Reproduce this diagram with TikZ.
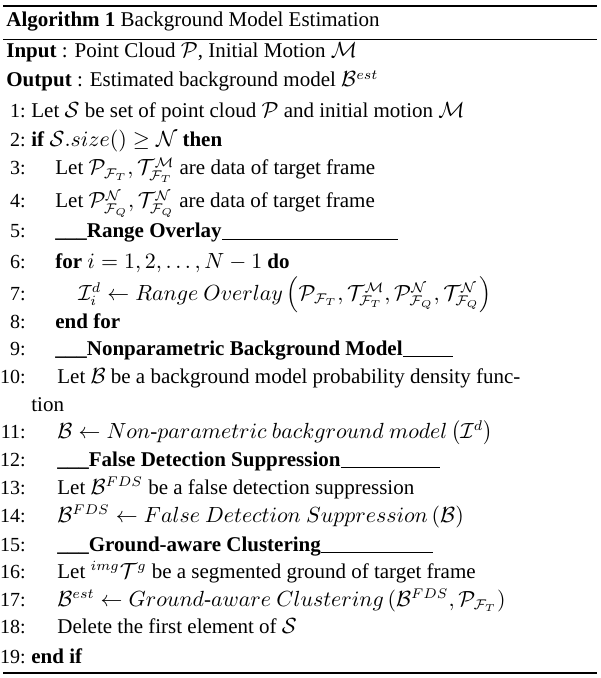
\documentclass[tikz,border=0pt]{standalone}
\usepackage{fontspec}
\setmainfont{Liberation Serif}
\begin{document}
\begin{tikzpicture}[x=0.5pt,y=-0.5pt,
  txt/.style={anchor=base west,inner sep=0pt,font=\fontsize{10.5}{13}\selectfont},
  num/.style={anchor=base east,inner sep=0pt,font=\fontsize{10}{13}\selectfont},
  heavy/.style={line width=1.1pt},
  light/.style={line width=0.45pt},
  uline/.style={line width=0.5pt}]
\useasboundingbox (0,0) rectangle (600,678);
\draw[heavy] (3,6) coordinate(tl) -- (597,6) coordinate(tr);
\node[txt] (cap) at (6,27) {\textbf{Algorithm 1} Background Model Estimation};
\draw[light] (3,39) -- (597,39);
\node[txt] (in) at (6,58) {\textbf{Input} : Point Cloud $\mathcal{P}$, Initial Motion $\mathcal{M}$};
\node[txt] (out) at (6,87) {\textbf{Output} : Estimated background model $\mathcal{B}^{est}$};
% numbers
\foreach \n/\y in {1/118,2/147,3/175,4/208,5/238,6/268,7/300,8/328,9/355,10/383,11/438,12/466,13/494,14/522,15/551,16/578,17/606,18/633,19/663}
  \node[num] (n\n) at (26,\y) {\n:};
\node[txt] (l1) at (31,118) {Let $\mathcal{S}$ be set of point cloud $\mathcal{P}$ and initial motion $\mathcal{M}$};
\node[txt] (l2) at (31,147) {\textbf{if} $\mathcal{S}.size() \geq \mathcal{N}$ \textbf{then}};
\node[txt] (l3) at (55,175) {Let $\mathcal{P}_{\mathcal{F}_T}, \mathcal{T}^{\mathcal{M}}_{\mathcal{F}_T}$ are data of target frame};
\node[txt] (l4) at (55,208) {Let $\mathcal{P}^{\mathcal{N}}_{\mathcal{F}_Q}, \mathcal{T}^{\mathcal{N}}_{\mathcal{F}_Q}$ are data of target frame};
\node[txt] (l5) at (55,238) {\textbf{\_\_\_Range Overlay}};
\draw[uline] (l5.base east) ++(0,1.5) -- (398,239.5);
\node[txt] (l6) at (55,268) {\textbf{for} $i=1,2,\ldots,N-1$ \textbf{do}};
\node[txt] (l7) at (78,300) {$\mathcal{I}^d_i \leftarrow Range\ Overlay \left(\mathcal{P}_{\mathcal{F}_T}, \mathcal{T}^{\mathcal{M}}_{\mathcal{F}_T}, \mathcal{P}^{\mathcal{N}}_{\mathcal{F}_Q}, \mathcal{T}^{\mathcal{N}}_{\mathcal{F}_Q}\right)$};
\node[txt] (l8) at (55,328) {\textbf{end for}};
\node[txt] (l9) at (55,355) {\textbf{\_\_\_Nonparametric Background Model}};
\draw[uline] (l9.base east) ++(0,1.5) -- (453,356.5);
\node[txt] (l10) at (57,383) {Let $\mathcal{B}$ be a background model probability density func-};
\node[txt] (l10b) at (31,411) {tion};
\node[txt] (l11) at (57,438) {$\mathcal{B} \leftarrow Non\mbox{-}parametric\ background\ model \left(\mathcal{I}^d\right)$};
\node[txt] (l12) at (57,466) {\textbf{\_\_\_False Detection Suppression}};
\draw[uline] (l12.base east) ++(0,1.5) -- (440,467.5);
\node[txt] (l13) at (57,494) {Let $\mathcal{B}^{FDS}$ be a false detection suppression};
\node[txt] (l14) at (57,522) {$\mathcal{B}^{FDS} \leftarrow False\ Detection\ Suppression\,(\mathcal{B})$};
\node[txt] (l15) at (57,551) {\textbf{\_\_\_Ground-aware Clustering}};
\draw[uline] (l15.base east) ++(0,1.5) -- (433,552.5);
\node[txt] (l16) at (57,578) {Let ${}^{img}\mathcal{T}^{g}$ be a segmented ground of target frame};
\node[txt] (l17) at (57,606) {$\mathcal{B}^{est} \leftarrow Ground\mbox{-}aware\ Clustering \left(\mathcal{B}^{FDS}, \mathcal{P}_{\mathcal{F}_T}\right)$};
\node[txt] (l18) at (57,633) {Delete the first element of $\mathcal{S}$};
\node[txt] (l19) at (31,663) {\textbf{end if}};
\draw[heavy] (3,673) -- (597,673);
\end{tikzpicture}
\end{document}
